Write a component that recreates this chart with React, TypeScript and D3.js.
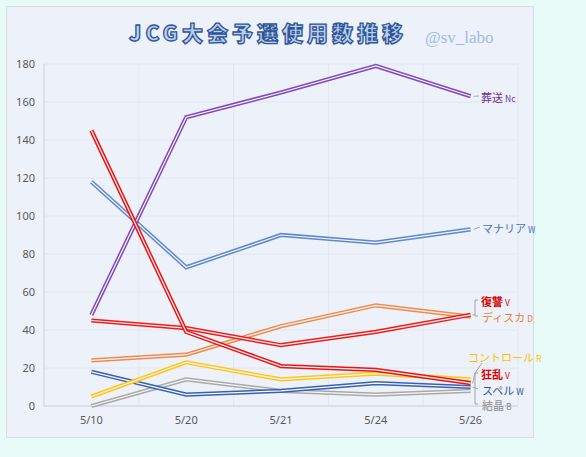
import { useEffect, useRef } from "react"
import * as d3 from "d3"

// 日付（カテゴリ）
const dates = ["5/10", "5/20", "5/21", "5/24", "5/26"]

// 各デッキの使用数
const sousouNc = [48, 152, 165, 179, 163]
const manariaW = [118, 73, 90, 86, 93]
const fukushuuV = [45, 41, 32, 39, 48]
const discardD = [24, 27, 42, 53, 47]
const controlR = [5, 23, 14, 17, 14]
const kyouranV = [145, 39, 21, 19, 12]
const spellW = [18, 6, 8, 12, 10]
const kesshouB = [0, 14, 8, 6, 8]

const yTicks = [0, 20, 40, 60, 80, 100, 120, 140, 160, 180]

interface Series {
  name: string
  suffix: string
  values: number[]
  line: string
  label: string
  bold?: boolean
}

const series: Series[] = [
  { name: "結晶", suffix: "B", values: kesshouB, line: "#a9a9a9", label: "#8c8c8c" },
  { name: "スペル", suffix: "W", values: spellW, line: "#3562b5", label: "#2f5597" },
  { name: "コントロール", suffix: "R", values: controlR, line: "#ffc61a", label: "#ffc000" },
  { name: "ディスカ", suffix: "D", values: discardD, line: "#f08a4b", label: "#ed7d31" },
  { name: "マナリア", suffix: "W", values: manariaW, line: "#5b88d2", label: "#4472c4" },
  { name: "葬送", suffix: "Nc", values: sousouNc, line: "#8047bf", label: "#7030a0" },
  { name: "復讐", suffix: "V", values: fukushuuV, line: "#f51a1a", label: "#e00000", bold: true },
  { name: "狂乱", suffix: "V", values: kyouranV, line: "#ee1111", label: "#e00000", bold: true },
]

const W = 586
const H = 457

export default function App() {
  const svgRef = useRef<SVGSVGElement>(null)

  useEffect(() => {
    if (!svgRef.current) return
    const root = d3.select(svgRef.current)
    root.selectAll("*").remove()

    // 背景
    root.append("rect").attr("width", W).attr("height", H).attr("fill", "#e9fbf8")
    root
      .append("rect")
      .attr("x", 6.5)
      .attr("y", 6.5)
      .attr("width", 527)
      .attr("height", 431)
      .attr("fill", "#edf1fa")
      .attr("stroke", "#d3dfe0")
      .attr("stroke-width", 1)

    const plot = { left: 44, right: 518, top: 64, bottom: 406 }

    const x = d3.scaleBand<string>().domain(dates).range([plot.left, plot.right])
    const y = d3.scaleLinear().domain([0, 180]).range([plot.bottom, plot.top])
    const cx = (d: string) => (x(d) as number) + x.bandwidth() / 2

    const g = root.append("g")

    // グリッド
    g.selectAll(".hgrid")
      .data(yTicks.slice(1))
      .join("line")
      .attr("x1", plot.left)
      .attr("x2", plot.right)
      .attr("y1", (d) => y(d))
      .attr("y2", (d) => y(d))
      .attr("stroke", "#e2e6ef")
      .attr("stroke-width", 1)

    g.selectAll(".vgrid")
      .data(dates)
      .join("line")
      .attr("x1", (d) => (x(d) as number) + x.bandwidth())
      .attr("x2", (d) => (x(d) as number) + x.bandwidth())
      .attr("y1", plot.top)
      .attr("y2", plot.bottom)
      .attr("stroke", "#e2e6ef")
      .attr("stroke-width", 1)

    // 軸線
    g.append("line")
      .attr("x1", plot.left)
      .attr("x2", plot.left)
      .attr("y1", plot.top)
      .attr("y2", plot.bottom)
      .attr("stroke", "#cdd1d9")
    g.append("line")
      .attr("x1", plot.left)
      .attr("x2", plot.right)
      .attr("y1", plot.bottom)
      .attr("y2", plot.bottom)
      .attr("stroke", "#c8ccd4")

    // 目盛りラベル
    g.selectAll(".ytick")
      .data(yTicks)
      .join("text")
      .attr("x", 35)
      .attr("y", (d) => y(d))
      .attr("dy", "0.35em")
      .attr("text-anchor", "end")
      .attr("font-family", "'Noto Sans', sans-serif")
      .attr("font-size", 11)
      .attr("fill", "#595959")
      .text((d) => d)

    g.selectAll(".xtick")
      .data(dates)
      .join("text")
      .attr("x", (d) => cx(d))
      .attr("y", plot.bottom + 18)
      .attr("text-anchor", "middle")
      .attr("font-family", "'Noto Sans', sans-serif")
      .attr("font-size", 11)
      .attr("fill", "#595959")
      .text((d) => d)

    // 二重線
    const line = d3
      .line<number>()
      .x((_, i) => cx(dates[i]))
      .y((d) => y(d))

    series.forEach((s) => {
      g.append("path")
        .datum(s.values)
        .attr("d", line)
        .attr("fill", "none")
        .attr("stroke", s.line)
        .attr("stroke-width", 4.2)
        .attr("stroke-linejoin", "miter")
      g.append("path")
        .datum(s.values)
        .attr("d", line)
        .attr("fill", "none")
        .attr("stroke", "#fbf6f6")
        .attr("stroke-width", 1.2)
        .attr("stroke-linejoin", "miter")
    })

    // ラベル（右端）
    const endX = cx(dates[dates.length - 1])
    const labelPos: Record<string, { x: number; y: number }> = {
      葬送: { x: 481, y: 96 },
      マナリア: { x: 482, y: 227 },
      復讐: { x: 481, y: 300 },
      ディスカ: { x: 482, y: 316 },
      コントロール: { x: 468, y: 356 },
      狂乱: { x: 481, y: 373 },
      スペル: { x: 482, y: 389 },
      結晶: { x: 482, y: 404 },
    }

    const leader = g.append("g").attr("stroke", "#a6a6a6").attr("stroke-width", 1).attr("fill", "none")
    // 単独のラベル
    ;["葬送", "マナリア"].forEach((n) => {
      const s = series.find((d) => d.name === n)!
      const ey = y(s.values[s.values.length - 1])
      leader
        .append("path")
        .attr("d", `M${endX + 3},${ey} L${labelPos[n].x - 2},${labelPos[n].y}`)
    })
    // 復讐・ディスカのブラケット
    leader
      .append("path")
      .attr("d", `M${endX + 2},${y(48)} L475,${y(48)} M478,${labelPos["復讐"].y} L475,${labelPos["復讐"].y} L475,${labelPos["ディスカ"].y} L478,${labelPos["ディスカ"].y}`)
    // 下側のブラケット
    leader
      .append("path")
      .attr(
        "d",
        `M${endX + 2},${y(12)} L475,${labelPos["狂乱"].y} M478,${labelPos["狂乱"].y} L475,${labelPos["狂乱"].y} L475,${labelPos["結晶"].y} L478,${labelPos["結晶"].y} M${endX + 2},${y(10)} L478,${labelPos["スペル"].y} M475,${labelPos["狂乱"].y} L482,${labelPos["コントロール"].y + 7}`
      )

    series.forEach((s) => {
      const p = labelPos[s.name]
      const t = g
        .append("text")
        .attr("x", p.x)
        .attr("y", p.y)
        .attr("dy", "0.35em")
        .attr("font-family", "'Noto Sans CJK JP', sans-serif")
        .attr("fill", s.label)
      t.append("tspan")
        .attr("font-size", 11)
        .attr("font-weight", s.bold ? 700 : 400)
        .text(s.name)
      t.append("tspan").attr("font-size", 8.5).attr("dx", 2).text(s.suffix)
    })

    // タイトル
    root
      .append("text")
      .attr("x", 268)
      .attr("y", 41)
      .attr("text-anchor", "middle")
      .attr("font-family", "'Noto Sans CJK JP', sans-serif")
      .attr("font-weight", 900)
      .attr("font-size", 21)
      .attr("letter-spacing", 4)
      .attr("fill", "#b9d0ee")
      .attr("stroke", "#2f5597")
      .attr("stroke-width", 1.3)
      .text("JCG大会予選使用数推移")

    root
      .append("text")
      .attr("x", 425)
      .attr("y", 43)
      .attr("font-family", "'Liberation Serif', serif")
      .attr("font-size", 17)
      .attr("fill", "#9dbbe6")
      .text("@sv_labo")
  }, [])

  return (
    <svg
      ref={svgRef}
      width={W}
      height={H}
      style={{ position: "absolute", left: 0, top: 0, display: "block" }}
    />
  )
}
